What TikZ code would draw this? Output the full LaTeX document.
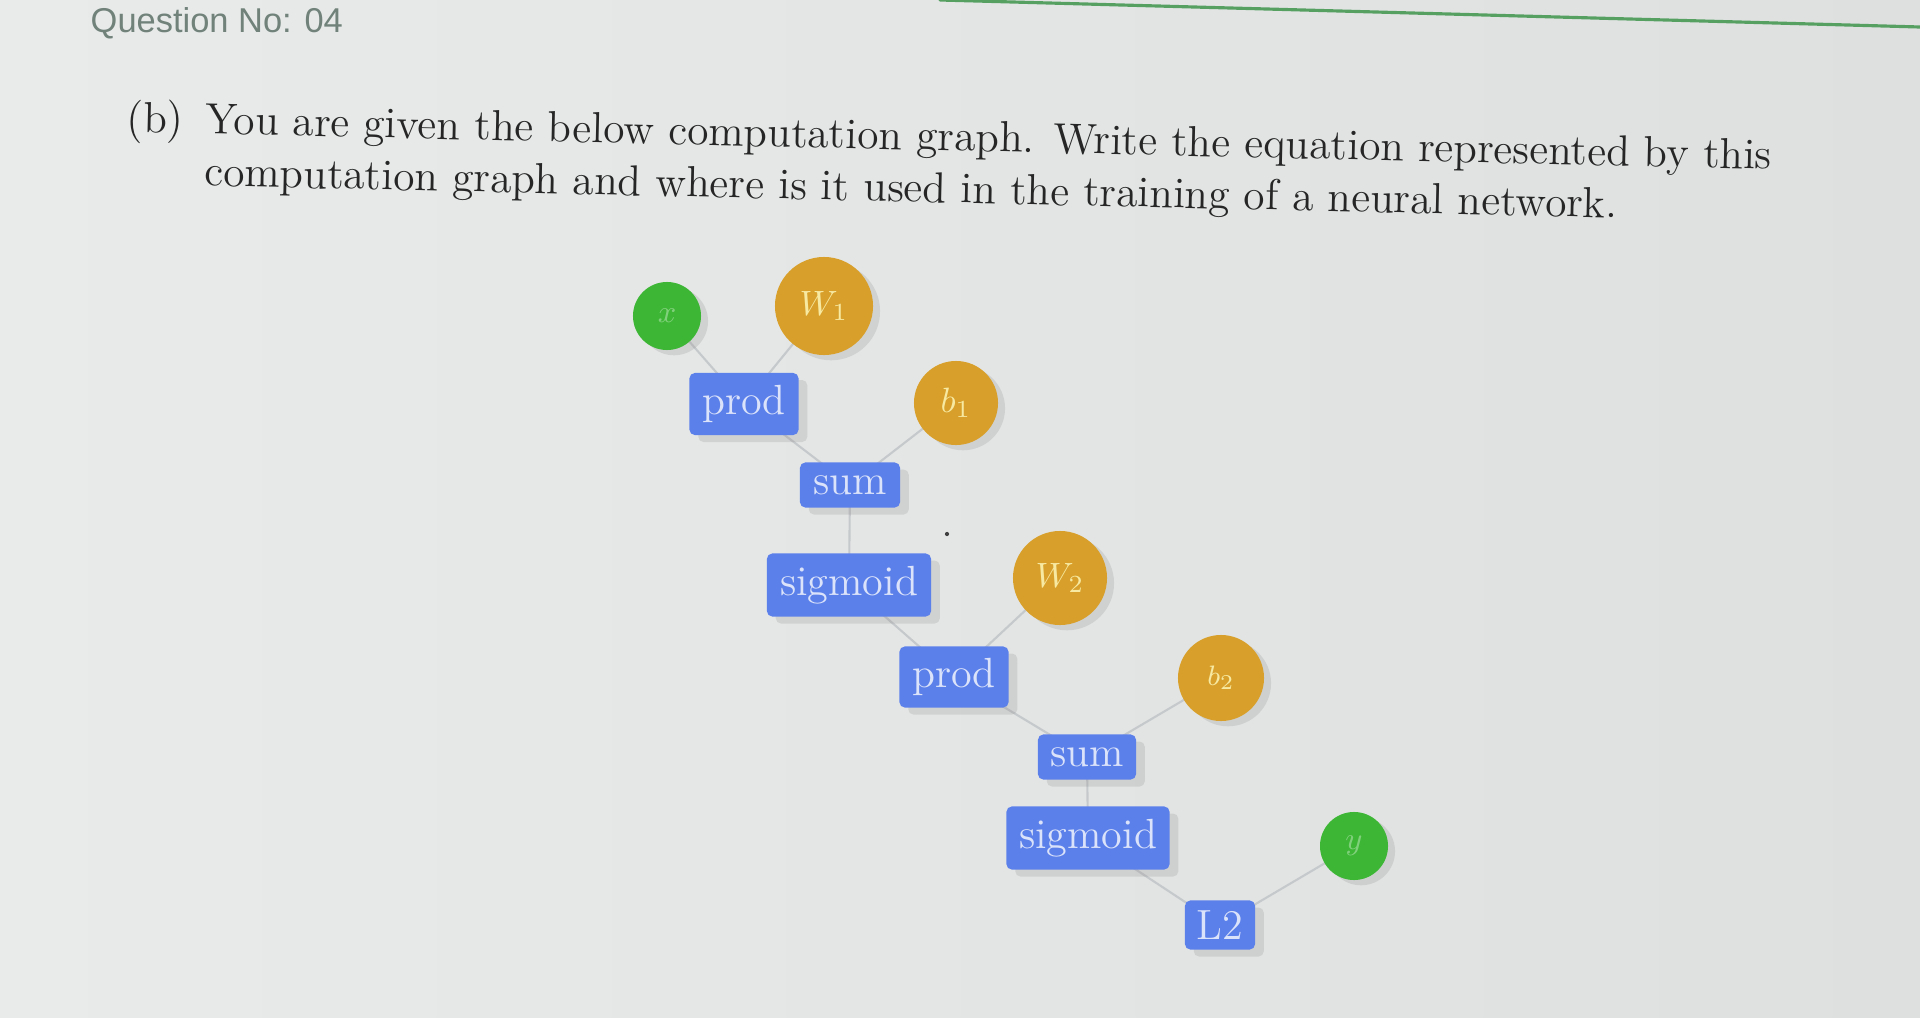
\documentclass[tikz,border=0pt]{standalone}
\usepackage{fontspec}
\newfontfamily\qsans{Liberation Sans}
\usetikzlibrary{shadows,backgrounds}
\definecolor{paperL}{RGB}{233,235,235}
\definecolor{paperR}{RGB}{222,224,224}
\definecolor{leafgreen}{RGB}{60,182,52}
\definecolor{leafgold}{RGB}{216,160,42}
\definecolor{opblue}{RGB}{92,128,234}
\definecolor{edgegray}{RGB}{198,201,203}
\definecolor{qgray}{RGB}{112,130,122}
\definecolor{barline}{RGB}{86,160,98}
\begin{document}
\begin{tikzpicture}[x=0.01cm,y=-0.01cm,line join=round,line cap=round]
			\tikzset{
				opbox/.style={fill=opblue,rounded corners=1.5pt,inner sep=0pt,text=white!78!opblue,
					font=\fontsize{12}{12}\selectfont,
					drop shadow={shadow xshift=2.5pt,shadow yshift=-2pt,opacity=0.2}},
				leaf/.style={circle,inner sep=0pt,
					drop shadow={shadow xshift=2pt,shadow yshift=-1.5pt,opacity=0.2}},
				goldleaf/.style={leaf,fill=leafgold,text=yellow!25!white!80!leafgold,font=\fontsize{10}{10}\selectfont},
				greenleaf/.style={leaf,fill=leafgreen,minimum size=0.68cm,text=leafgreen!65!white,font=\fontsize{9}{9}\selectfont}
			}
			\useasboundingbox (0,0) rectangle (1920,1018);
			\begin{scope}[on background layer]
				\shade[left color=paperL,right color=paperR] (0,0) rectangle (1920,1018);
			\end{scope}
			\draw[barline,line width=0.9pt] (940,0)--(1920,27);
			% heading and question
			\node[anchor=base west,inner sep=0pt,text=qgray,font=\qsans\fontsize{9.8}{9.8}\selectfont] (qno) at (90,32) {Question No: 04};
			\node[anchor=base west,rotate=-1.3,inner sep=0pt,text=black!85,font=\fontsize{12.35}{14.8}\selectfont] (qtext) at (126,132)
				{\begin{tabular}[t]{@{}l@{\hspace{0.22cm}}l@{}}
				(b) & You are given the below computation graph. Write the equation represented by this\\
				& computation graph and where is it used in the training of a neural network.
				\end{tabular}};
			% leaves
			\node[greenleaf] (x) at (667,316) {$x$};
			\node[goldleaf,minimum size=0.98cm] (W1) at (824,306) {$W_1$};
			\node[goldleaf,minimum size=0.84cm] (b1) at (956,403) {$b_1$};
			\node[goldleaf,minimum size=0.94cm] (W2) at (1060,578) {$W_2$};
			\node[goldleaf,minimum size=0.86cm,font=\fontsize{8}{8}\selectfont] (b2) at (1221,678) {$b_2$};
			\node[greenleaf] (y) at (1354,846) {$y$};
			% operations
			\node[opbox,minimum width=1.09cm,minimum height=0.62cm] (prod1) at (744,404) {prod};
			\node[opbox,minimum width=1.00cm,minimum height=0.45cm] (sum1) at (850,485) {sum};
			\node[opbox,minimum width=1.64cm,minimum height=0.63cm] (sig1) at (849,585) {sigmoid};
			\node[opbox,minimum width=1.09cm,minimum height=0.61cm] (prod2) at (954,677) {prod};
			\node[opbox,minimum width=0.98cm,minimum height=0.45cm] (sum2) at (1087,757) {sum};
			\node[opbox,minimum width=1.63cm,minimum height=0.63cm] (sig2) at (1088,838) {sigmoid};
			\node[opbox,minimum width=0.70cm,minimum height=0.49cm] (L2) at (1220,925) {L2};
			% connectors
			\begin{scope}[on background layer]
				\foreach \a/\b in {x/prod1,W1/prod1,prod1/sum1,b1/sum1,sum1/sig1,sig1/prod2,W2/prod2,prod2/sum2,b2/sum2,sum2/sig2,sig2/L2,y/L2}
				\draw[edgegray,line width=0.6pt] (\a.center)--(\b.center);
			\end{scope}
			\fill[black!75] (947,534) circle (0.6pt);
\end{tikzpicture}
\end{document}
